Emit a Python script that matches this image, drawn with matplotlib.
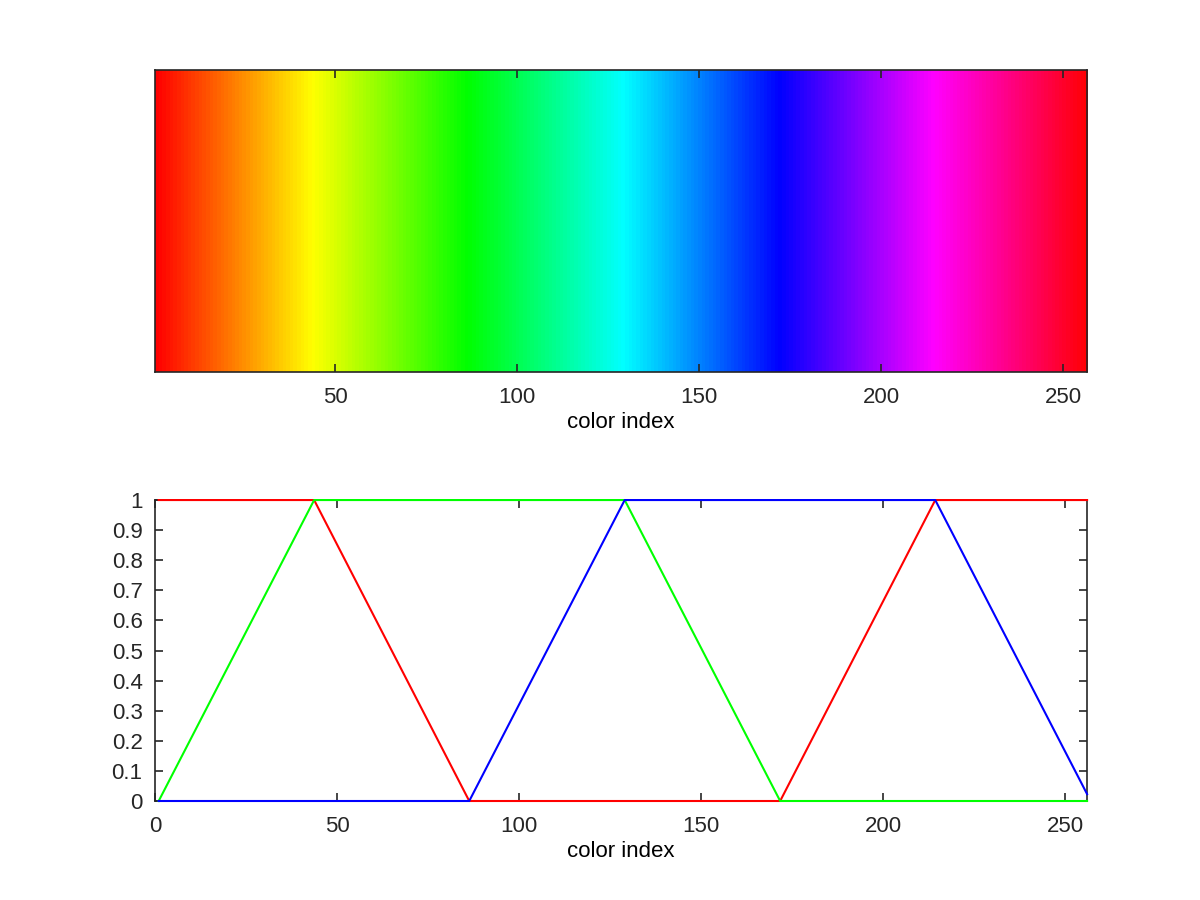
import numpy as np
import matplotlib
matplotlib.use('Agg')
import matplotlib.pyplot as plt
from matplotlib.colors import LinearSegmentedColormap

# indice de cor (1..256) e pontos de quebra de cada canal
n_cores = 256
red_x = [1, 43.7, 86.3, 171.7, 214.3, 256]
red_y = [1, 1, 0, 0, 1, 1]
green_x = [1, 43.7, 129, 171.7, 256]
green_y = [0, 1, 1, 0, 0]
blue_x = [1, 86.3, 129, 214.3, 256]
blue_y = [0, 0, 1, 1, 0.023]

xticks_top = [50, 100, 150, 200, 250]
xticks_bottom = [0, 50, 100, 150, 200, 250]
yticks_bottom = [0, 0.1, 0.2, 0.3, 0.4, 0.5, 0.6, 0.7, 0.8, 0.9, 1]
yticklabels_bottom = ['0', '0.1', '0.2', '0.3', '0.4', '0.5', '0.6', '0.7', '0.8', '0.9', '1']


def segmentos(xs, ys):
    x0, x1 = xs[0], xs[-1]
    return [((x - x0) / (x1 - x0), y, y) for x, y in zip(xs, ys)]


plt.rcParams['font.family'] = ['Liberation Sans', 'DejaVu Sans']
plt.rcParams['font.size'] = 16

cmap = LinearSegmentedColormap('octave_hsv', {
    'red': segmentos(red_x, red_y),
    'green': segmentos(green_x, green_y),
    'blue': segmentos(blue_x, blue_y),
}, N=n_cores)

fig = plt.figure(figsize=(12, 9), dpi=100)
ax1 = fig.add_axes([0.1292, 0.5867, 0.7767, 0.3356])
ax2 = fig.add_axes([0.1292, 0.11, 0.7767, 0.3344])

# barra de cores
indices = np.arange(1, n_cores + 1)
ax1.imshow(indices[np.newaxis, :], cmap=cmap, aspect='auto',
           extent=[0.5, n_cores + 0.5, 0, 1], interpolation='nearest')
ax1.set_xlim(0.5, n_cores + 0.5)
ax1.set_xticks(xticks_top)
ax1.set_yticks([])
ax1.set_xlabel('color index', labelpad=3)

# componentes r, g, b
ax2.plot(red_x, red_y, color='#ff0000', lw=1.5, zorder=5, clip_on=False)
ax2.plot(green_x, green_y, color='#00ff00', lw=1.5, zorder=5, clip_on=False)
ax2.plot(blue_x, blue_y, color='#0000ff', lw=1.5, zorder=5, clip_on=False)
ax2.set_xlim(0, n_cores)
ax2.set_ylim(0, 1)
ax2.set_xticks(xticks_bottom)
ax2.set_yticks(yticks_bottom)
ax2.set_yticklabels(yticklabels_bottom)
ax2.set_xlabel('color index', labelpad=3)

for ax in (ax1, ax2):
    ax.tick_params(direction='in', top=True, right=True, length=6, width=1.2,
                   colors='#262626', labelcolor='#262626')
    ax.tick_params(axis='x', pad=11)
    ax.tick_params(axis='y', pad=9)
    for s in ax.spines.values():
        s.set_linewidth(1.2)
        s.set_color('#262626')

fig.savefig('out.png', dpi=100)
